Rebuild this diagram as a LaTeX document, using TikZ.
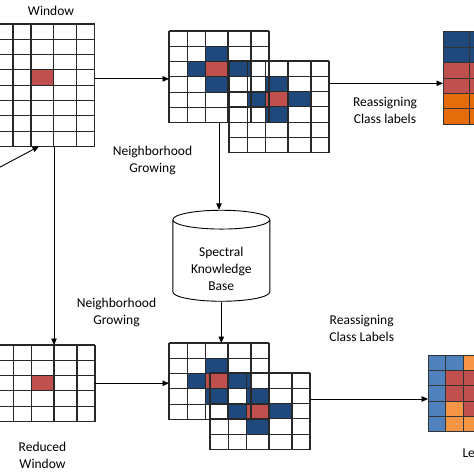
\documentclass[tikz,border=0pt]{standalone}
\usepackage{fontspec}
\setmainfont{Carlito}
\usetikzlibrary{arrows.meta,shapes.geometric}

\definecolor{navy}{RGB}{31,73,125}
\definecolor{cellred}{RGB}{192,80,77}
\definecolor{deeporange}{RGB}{228,108,10}
\definecolor{skyblue}{RGB}{79,129,189}
\definecolor{lightorange}{RGB}{247,150,70}
\definecolor{gridgray}{RGB}{40,40,40}

\tikzset{
  gridline/.style={draw=gridgray, line width=1.1pt},
  clsline/.style={draw=black!80, line width=0.8pt},
  gridbox/.style={inner sep=0pt, outer sep=0pt, anchor=north west},
  arr/.style={-{Triangle[length=6.5pt,width=5.5pt]}, line width=0.9pt},
  lbl/.style={align=center, font=\fontsize{13.5}{16.8}\selectfont},
}

% window grid with 5 columns and #1 rows
\newcommand{\cellgrid}[1]{%
  \foreach \cx in {0,18.5,36.5,59,82,100}
    \draw[gridline] (\cx,0) -- (\cx,#1*15.3);
  \foreach \ry in {0,...,#1}
    \draw[gridline] (0,\ry*15.3) -- (100,\ry*15.3);
}

% cross of neighbour cells round the red one, #1 = top of red cell
\newcommand{\pixcross}[1]{%
  \fill[navy] (36.5,#1-15.3) rectangle (59,#1);
  \fill[navy] (18.5,#1) rectangle (36.5,#1+15.3);
  \fill[cellred] (36.5,#1) rectangle (59,#1+15.3);
  \fill[navy] (59,#1) rectangle (82,#1+15.3);
  \fill[navy] (36.5,#1+15.3) rectangle (59,#1+30.6);
}

\begin{document}
\begin{tikzpicture}[x=1pt,y=-1pt]

    % Page frame
    \useasboundingbox (0,0) rectangle (474,474);
    \clip (0,0) rectangle (474,474);

    % Frames of the grids
    \node[gridbox, minimum width=100pt, minimum height=122.4pt] (win) at (-5.5,24) {};
    \node[gridbox, minimum width=100pt, minimum height=91.8pt] (g1) at (169,31) {};
    \node[gridbox, minimum width=100pt, minimum height=91.8pt] (g2) at (229,61) {};
    \node[gridbox, minimum width=100pt, minimum height=76.5pt] (rw) at (-5,345) {};
    \node[gridbox, minimum width=100pt, minimum height=76.5pt] (g3) at (169,343) {};
    \node[gridbox, minimum width=100pt, minimum height=76.5pt] (g4) at (210,373) {};
    \node[gridbox, minimum width=52pt, minimum height=92.4pt] (cls1) at (443,31.7) {};
    \node[gridbox, minimum width=53pt, minimum height=76.5pt] (cls2) at (428,355) {};

    % Window
    \begin{scope}[shift={(win.north west)}]
        \fill[cellred] (36.5,45.9) rectangle (59,61.2);
        \cellgrid{8}
    \end{scope}

    % Grown neighbourhoods, top
    \begin{scope}[shift={(g2.north west)}]
        \pixcross{30.6}
    \end{scope}
    \begin{scope}[shift={(g1.north west)}]
        \pixcross{30.6}
    \end{scope}
    \begin{scope}[shift={(g2.north west)}]
        \cellgrid{6}
    \end{scope}
    \begin{scope}[shift={(g1.north west)}]
        \cellgrid{6}
    \end{scope}

    % Reduced window
    \begin{scope}[shift={(rw.north west)}]
        \fill[cellred] (36.5,30.6) rectangle (59,45.9);
        \cellgrid{5}
    \end{scope}

    % Grown neighbourhoods, bottom
    \begin{scope}[shift={(g4.north west)}]
        \pixcross{30.6}
    \end{scope}
    \begin{scope}[shift={(g3.north west)}]
        \pixcross{30.6}
    \end{scope}
    \begin{scope}[shift={(g4.north west)}]
        \cellgrid{5}
    \end{scope}
    \begin{scope}[shift={(g3.north west)}]
        \cellgrid{5}
    \end{scope}

    % Class map, top
    \begin{scope}[shift={(cls1.north west)}]
        \foreach \r/\c in {0/navy,1/navy,2/cellred,3/cellred,4/deeporange,5/deeporange}
            \fill[\c] (0,\r*15.4) rectangle (52,\r*15.4+15.4);
        \foreach \cx in {0,26,52}
            \draw[clsline] (\cx,0) -- (\cx,92.4);
        \foreach \r in {0,...,6}
            \draw[clsline] (0,\r*15.4) -- (52,\r*15.4);
    \end{scope}

    % Class map, bottom
    \begin{scope}[shift={(cls2.north west)}]
        \foreach \c [count=\r from 0] in {skyblue,skyblue,skyblue,skyblue,skyblue}
            \fill[\c] (0,\r*15.3) rectangle +(17.7,15.3);
        \foreach \c [count=\r from 0] in {skyblue,cellred,cellred,lightorange,lightorange}
            \fill[\c] (17.7,\r*15.3) rectangle +(17.7,15.3);
        \foreach \c [count=\r from 0] in {lightorange,cellred,cellred,cellred,lightorange}
            \fill[\c] (35.4,\r*15.3) rectangle +(17.7,15.3);
        \foreach \cx in {0,17.7,35.4,53.1}
            \draw[clsline] (\cx,0) -- (\cx,76.5);
        \foreach \r in {0,...,5}
            \draw[clsline] (0,\r*15.3) -- (53.1,\r*15.3);
    \end{scope}

    % Spectral knowledge base
    \node[cylinder, shape border rotate=90, draw, line width=0.9pt, aspect=0.28,
          minimum width=97pt, minimum height=91pt, lbl] (skb) at (221.3,262.4)
          {\rule{0pt}{22pt}Spectral\\Knowledge\\Base};

    % Labels
    \node[lbl] (win-t) at (51,11) {Window};
    \node[lbl] (grow-t) at (152.5,160.5) {Neighborhood\\Growing};
    \node[lbl] (reas-t) at (385,110.5) {Reassigning\\Class labels};
    \node[lbl] (grow-b) at (116.5,312.5) {Neighborhood\\Growing};
    \node[lbl] (reas-b) at (361.7,328.5) {Reassigning\\Class Labels};
    \node[lbl] (rw-t) at (42.5,455.5) {Reduced\\Window};
    \node[lbl, anchor=base west] (le-t) at (459,457) {Le};

    % Connectors
    \coordinate (src) at (-12,173.5);
    \coordinate (w1) at ([yshift=-2pt]g1.west);
    \coordinate (e2) at ([yshift=-22.3pt]g2.north east);
    \coordinate (s1) at ([xshift=9.5pt]win.south);
    \coordinate (e4) at ([yshift=-26pt]g4.north east);
    \draw[arr] (src) -- ([xshift=-5.5pt]win.south);
    \draw[arr] (w1 -| win.east) -- (w1);
    \draw[arr] (e2) -- (e2 -| cls1.west);
    \draw[arr] (g1.south) -- (g1.south |- skb.north);
    \draw[arr] (skb.south) -- (skb.south |- g3.north);
    \draw[arr] (s1) -- (s1 |- rw.north);
    \draw[arr] (rw.east) -- (rw.east -| g3.west);
    \draw[arr] (e4) -- (e4 -| cls2.west);

\end{tikzpicture}
\end{document}
